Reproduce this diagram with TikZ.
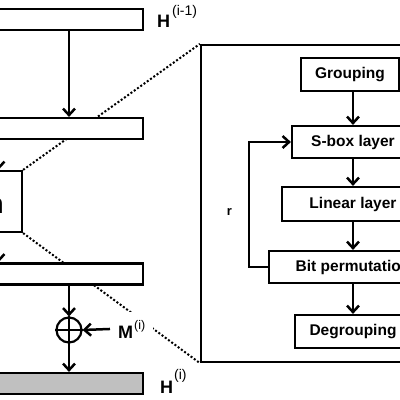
\documentclass[tikz,border=0pt]{standalone}
\usepackage{fontspec}
\setmainfont{Liberation Sans}
\usetikzlibrary{arrows.meta}
\begin{document}
\begin{tikzpicture}[x=1pt,y=-1pt,
  lw/.style={line width=2.2pt},
  bar/.style={draw,line width=2.2pt,fill=white,minimum width=148pt,minimum height=21pt,inner sep=0pt},
  layer/.style={draw,line width=2.2pt,fill=white,minimum height=33pt,inner sep=0pt,font=\fontsize{15.5}{16}\selectfont\bfseries},
  arr/.style={line width=2.5pt,-{Straight Barb[length=6.5pt,width=12pt]}},
  dotline/.style={line width=2pt,dash pattern=on 2pt off 2pt},
]
\useasboundingbox (0,0) rectangle (400,400);
\node[draw,line width=2.2pt,minimum width=229pt,minimum height=317pt,inner sep=0pt] (big) at (315.5,203.5) {};
\node[draw,line width=2.2pt,minimum width=32pt,minimum height=61pt,inner sep=0pt] (small) at (6,201.5) {};
\node[anchor=base east,inner sep=0pt,font=\fontsize{28}{28}\selectfont\bfseries] (ntext) at (4,213) {n};
\draw[dotline] (small.north east) -- (big.north west);
\draw[dotline] (small.south east) -- (big.south west);
\node[bar] (b1) at (69,19.5) {};
\node[bar] (b2) at (69,128.5) {};
\node[bar] (b3) at (69,274) {};
\node[bar,fill={rgb,255:red,192;green,192;blue,192}] (b4) at (69,383.5) {};
\node[draw,circle,line width=2.2pt,minimum size=25pt,inner sep=0pt] (xo) at (69,330) {};
\draw[lw] (xo.north) -- (xo.south);
\draw[lw] (xo.west) -- (xo.east);
\draw[arr] (b1.south) -- (b2.north);
\draw[arr] (b3.south) -- (xo.north);
\draw[arr] (xo.south) -- (b4.north);
\coordinate (hx) at (-1.5,0);
\draw[arr] (b2.south -| hx) -- (small.north -| hx);
\draw[arr] (small.south -| hx) -- (b3.north -| hx);
\node[anchor=base west,inner sep=0pt] (h1) at (157,27) {\fontsize{18}{18}\selectfont\bfseries H\hspace{2pt}\raisebox{12pt}{\fontsize{14}{14}\selectfont\mdseries (i-1)}};
\node[anchor=base west,inner sep=0pt] (h2) at (160,393) {\fontsize{18}{18}\selectfont\bfseries H\hspace{1pt}\raisebox{14pt}{\fontsize{14}{14}\selectfont\mdseries (i)}};
\node[anchor=base west,fill=white,inner sep=8pt] (m) at (110,338) {\fontsize{18}{18}\selectfont\bfseries M\hspace{1pt}\raisebox{9pt}{\fontsize{12.5}{12.5}\selectfont\mdseries (i)}};
\draw[arr] (m.west) -- (xo.east);
\node[layer,minimum width=98pt] (grp) at (350,74.5) {Grouping};
\node[layer,minimum width=122pt,minimum height=32pt] (sbl) at (353,142) {S-box layer};
\node[layer,minimum width=142pt,minimum height=34pt] (lin) at (353,204) {Linear layer};
\node[layer,minimum width=168pt,minimum height=32pt] (bit) at (353,267) {Bit permutation};
\node[layer,minimum width=116pt] (deg) at (353,331.5) {Degrouping};
\draw[arr] (grp.south -| sbl.north) -- (sbl.north);
\draw[arr] (sbl.south) -- (lin.north);
\draw[arr] (lin.south) -- (bit.north);
\draw[arr] (bit.south) -- (deg.north);
\coordinate (fb) at (249,0);
\draw[arr] (bit.west) -- (bit.west -| fb) -- (sbl.west -| fb) -- (sbl.west);
\node[font=\fontsize{13}{13}\selectfont\bfseries,inner sep=0pt,anchor=base] (r) at (229.5,215) {r};
\end{tikzpicture}
\end{document}
